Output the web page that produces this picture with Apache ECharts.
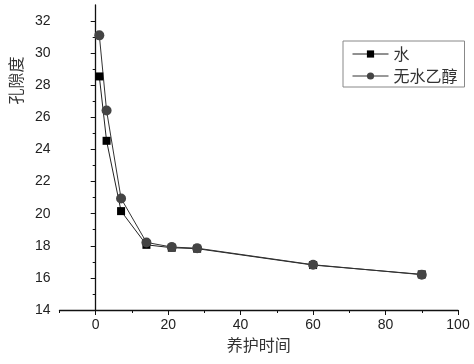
<!DOCTYPE html>
<html><head><meta charset="utf-8">
<script src="https://cdn.jsdelivr.net/npm/echarts@6/dist/echarts.min.js"></script>
<style>html,body{margin:0;padding:0;background:#fff}#c{width:474px;height:364px}</style>
</head><body><div id="c"></div>
<script>
const days = [1, 3, 7, 14, 21, 28, 60, 90];
const water = [28.55, 24.54, 20.16, 18.06, 17.88, 17.82, 16.8, 16.22];
const ethanol = [31.11, 26.43, 20.95, 18.21, 17.92, 17.85, 16.82, 16.2];
const seriesNames = ['水', '无水乙醇'];
const xTicks = [0, 20, 40, 60, 80, 100];
const yTicks = [14, 16, 18, 20, 22, 24, 26, 28, 30, 32];
const xName = '养护时间';
const yName = '孔隙度';

const chart = echarts.init(document.getElementById('c'), null, {renderer: 'canvas'});
const pairs = arr => days.map((d, i) => [d, arr[i]]);
const lbl = {fontFamily: 'Liberation Sans, Arial, sans-serif', fontSize: 14, color: '#222'};
chart.setOption({
  backgroundColor: '#fff',
  animation: false,
  grid: {left: 56, right: 16, top: 5, bottom: 54},
  legend: {
    orient: 'vertical', left: 343, top: 41,
    itemWidth: 36, itemHeight: 9, itemGap: 6,
    padding: [5, 7, 3, 9],
    borderColor: '#888', borderWidth: 1, backgroundColor: '#fff',
    lineStyle: {width: 1},
    textStyle: {fontFamily: 'Noto Sans CJK SC', fontSize: 16, color: '#333'},
    data: seriesNames
  },
  xAxis: [{
    type: 'value', min: -10, max: 100, position: 'bottom',
    name: xName, nameLocation: 'middle', nameGap: 24,
    nameTextStyle: {fontFamily: 'Noto Sans CJK SC', fontSize: 16, color: '#333'},
    axisLine: {show: true, lineStyle: {color: '#111', width: 1.3}},
    axisTick: {show: true, inside: false, length: 5, customValues: xTicks, lineStyle: {color: '#111'}},
    axisLabel: Object.assign({customValues: xTicks, margin: 8}, lbl),
    splitLine: {show: false}
  }, {
    type: 'value', min: -10, max: 100, interval: 10, position: 'bottom',
    axisLine: {show: false},
    axisTick: {show: true, length: 3, lineStyle: {color: '#111'}},
    axisLabel: {show: false},
    splitLine: {show: false}
  }],
  yAxis: {
    type: 'value', min: 14, max: 33, interval: 2,
    name: yName, nameLocation: 'middle', nameGap: 34, nameRotate: 90,
    nameTextStyle: {fontFamily: 'Noto Sans CJK SC', fontSize: 16, color: '#333', padding: [0, 0, 0, 154]},
    axisLine: {show: true, lineStyle: {color: '#111', width: 1.3}},
    axisTick: {show: true, length: 5, customValues: yTicks, lineStyle: {color: '#111'}},
    minorTick: {show: true, splitNumber: 2, length: 3, lineStyle: {color: '#111'}},
    axisLabel: Object.assign({customValues: yTicks, margin: 9}, lbl),
    splitLine: {show: false}
  },
  series: [{
    name: seriesNames[0], type: 'line', data: pairs(water),
    symbol: 'rect', symbolSize: 8, showAllSymbol: true,
    lineStyle: {color: '#222', width: 1},
    itemStyle: {color: '#000'}
  }, {
    name: seriesNames[1], type: 'line', data: pairs(ethanol),
    symbol: 'circle', symbolSize: 10, showAllSymbol: true,
    lineStyle: {color: '#333', width: 1},
    itemStyle: {color: '#444'}
  }]
});
</script></body></html>
